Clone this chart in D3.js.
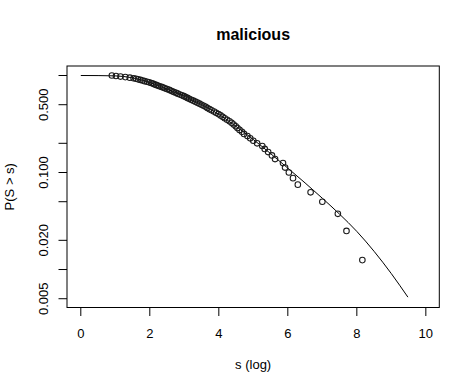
<!DOCTYPE html>
<html>
<head>
<meta charset="utf-8">
<script src="https://cdn.jsdelivr.net/npm/d3@7.9.0/dist/d3.min.js"></script>
<style>
  body { margin: 0; background: #fff; }
  text { font-family: "Liberation Sans", Arial, sans-serif; fill: #000; }
</style>
</head>
<body>
<div id="chart"></div>
<script>
// observed log sizes (sorted), survival computed from them
const sizes = [
  0.90, 1.02, 1.15, 1.29, 1.42, 1.53, 1.60, 1.66, 1.73, 1.79,
  1.85, 1.92, 1.98, 2.04, 2.09, 2.13, 2.18, 2.23, 2.28, 2.34,
  2.39, 2.44, 2.50, 2.56, 2.60, 2.65, 2.70, 2.76, 2.81, 2.87,
  2.93, 2.99, 3.04, 3.09, 3.14, 3.20, 3.26, 3.32, 3.38, 3.44,
  3.50, 3.56, 3.62, 3.67, 3.73, 3.79, 3.86, 3.92, 3.99, 4.05,
  4.11, 4.17, 4.24, 4.31, 4.37, 4.43, 4.49, 4.54, 4.60, 4.67,
  4.73, 4.83, 4.91, 5.00, 5.11, 5.26, 5.33, 5.43, 5.54, 5.63,
  5.86, 5.92, 6.03, 6.15, 6.29, 6.66, 7.00, 7.45, 7.70, 8.16
];

// fitted curve
const fitS = [0, 0.5, 1.0, 1.5, 2.0, 2.5, 3.0, 3.5, 4.0, 4.5, 5.0, 5.5, 6.0, 6.5, 7.0, 7.5, 8.0, 8.5, 9.0, 9.48];
const fitP = [1, 0.998, 0.991, 0.946, 0.847, 0.724, 0.610, 0.501, 0.398, 0.2985, 0.219, 0.1567, 0.1109, 0.0781, 0.0543, 0.0372, 0.0247, 0.0154, 0.00907, 0.00519];

const xTicks = [0, 2, 4, 6, 8, 10];
const yTicks = [1, 0.5, 0.2, 0.1, 0.05, 0.02, 0.01, 0.005];
const yLabels = [0.5, 0.1, 0.02, 0.005];

const width = 474, height = 391;
const box = { left: 67, right: 439.3, top: 66, bottom: 307.5 };

const n = sizes.length;
const points = sizes.map((s, i) => ({ s: s, p: (n - i) / n }));
const fit = fitS.map((s, i) => ({ s: s, p: fitP[i] }));

const svg = d3.select('#chart').append('svg')
  .attr('width', width)
  .attr('height', height);

svg.append('rect').attr('width', width).attr('height', height).attr('fill', '#fff');

const x = d3.scaleLinear().domain([-0.4, 10.39]).range([box.left, box.right]);
const y = d3.scaleLog().domain([1.253, 0.00406]).range([box.top, box.bottom]);

// fitted line
svg.append('path')
  .datum(fit)
  .attr('fill', 'none')
  .attr('stroke', '#000')
  .attr('stroke-width', 1)
  .attr('d', d3.line().x(d => x(d.s)).y(d => y(d.p)).curve(d3.curveMonotoneX));

// points
svg.append('g')
  .selectAll('circle')
  .data(points)
  .join('circle')
  .attr('cx', d => x(d.s))
  .attr('cy', d => y(d.p))
  .attr('r', 2.8)
  .attr('fill', 'none')
  .attr('stroke', '#1a1a1a')
  .attr('stroke-width', 1.05);

// box
svg.append('rect')
  .attr('x', box.left).attr('y', box.top)
  .attr('width', box.right - box.left)
  .attr('height', box.bottom - box.top)
  .attr('fill', 'none')
  .attr('stroke', '#000')
  .attr('stroke-width', 1);

// x axis
const xAxis = svg.append('g');
xAxis.selectAll('line')
  .data(xTicks)
  .join('line')
  .attr('x1', d => x(d)).attr('x2', d => x(d))
  .attr('y1', box.bottom).attr('y2', box.bottom + 8.5)
  .attr('stroke', '#000');
xAxis.selectAll('text')
  .data(xTicks)
  .join('text')
  .attr('x', d => x(d))
  .attr('y', 338)
  .attr('text-anchor', 'middle')
  .style('font-size', '13px')
  .text(d => d);

// y axis
const yAxis = svg.append('g');
yAxis.selectAll('line')
  .data(yTicks)
  .join('line')
  .attr('x1', box.left).attr('x2', box.left - 8.5)
  .attr('y1', d => y(d)).attr('y2', d => y(d))
  .attr('stroke', '#000');
yAxis.selectAll('text')
  .data(yLabels)
  .join('text')
  .attr('transform', d => `translate(48,${y(d)}) rotate(-90)`)
  .attr('text-anchor', 'middle')
  .style('font-size', '13px')
  .text(d => d3.format('.3f')(d));

// titles
svg.append('text')
  .attr('x', (box.left + box.right) / 2)
  .attr('y', 39.5)
  .attr('text-anchor', 'middle')
  .style('font-size', '16px')
  .style('font-weight', 'bold')
  .text('malicious');

svg.append('text')
  .attr('x', (box.left + box.right) / 2)
  .attr('y', 368.5)
  .attr('text-anchor', 'middle')
  .style('font-size', '13px')
  .text('s (log)');

svg.append('text')
  .attr('transform', `translate(13.5,${(box.top + box.bottom) / 2}) rotate(-90)`)
  .attr('text-anchor', 'middle')
  .style('font-size', '13px')
  .text('P(S > s)');
</script>
</body>
</html>
